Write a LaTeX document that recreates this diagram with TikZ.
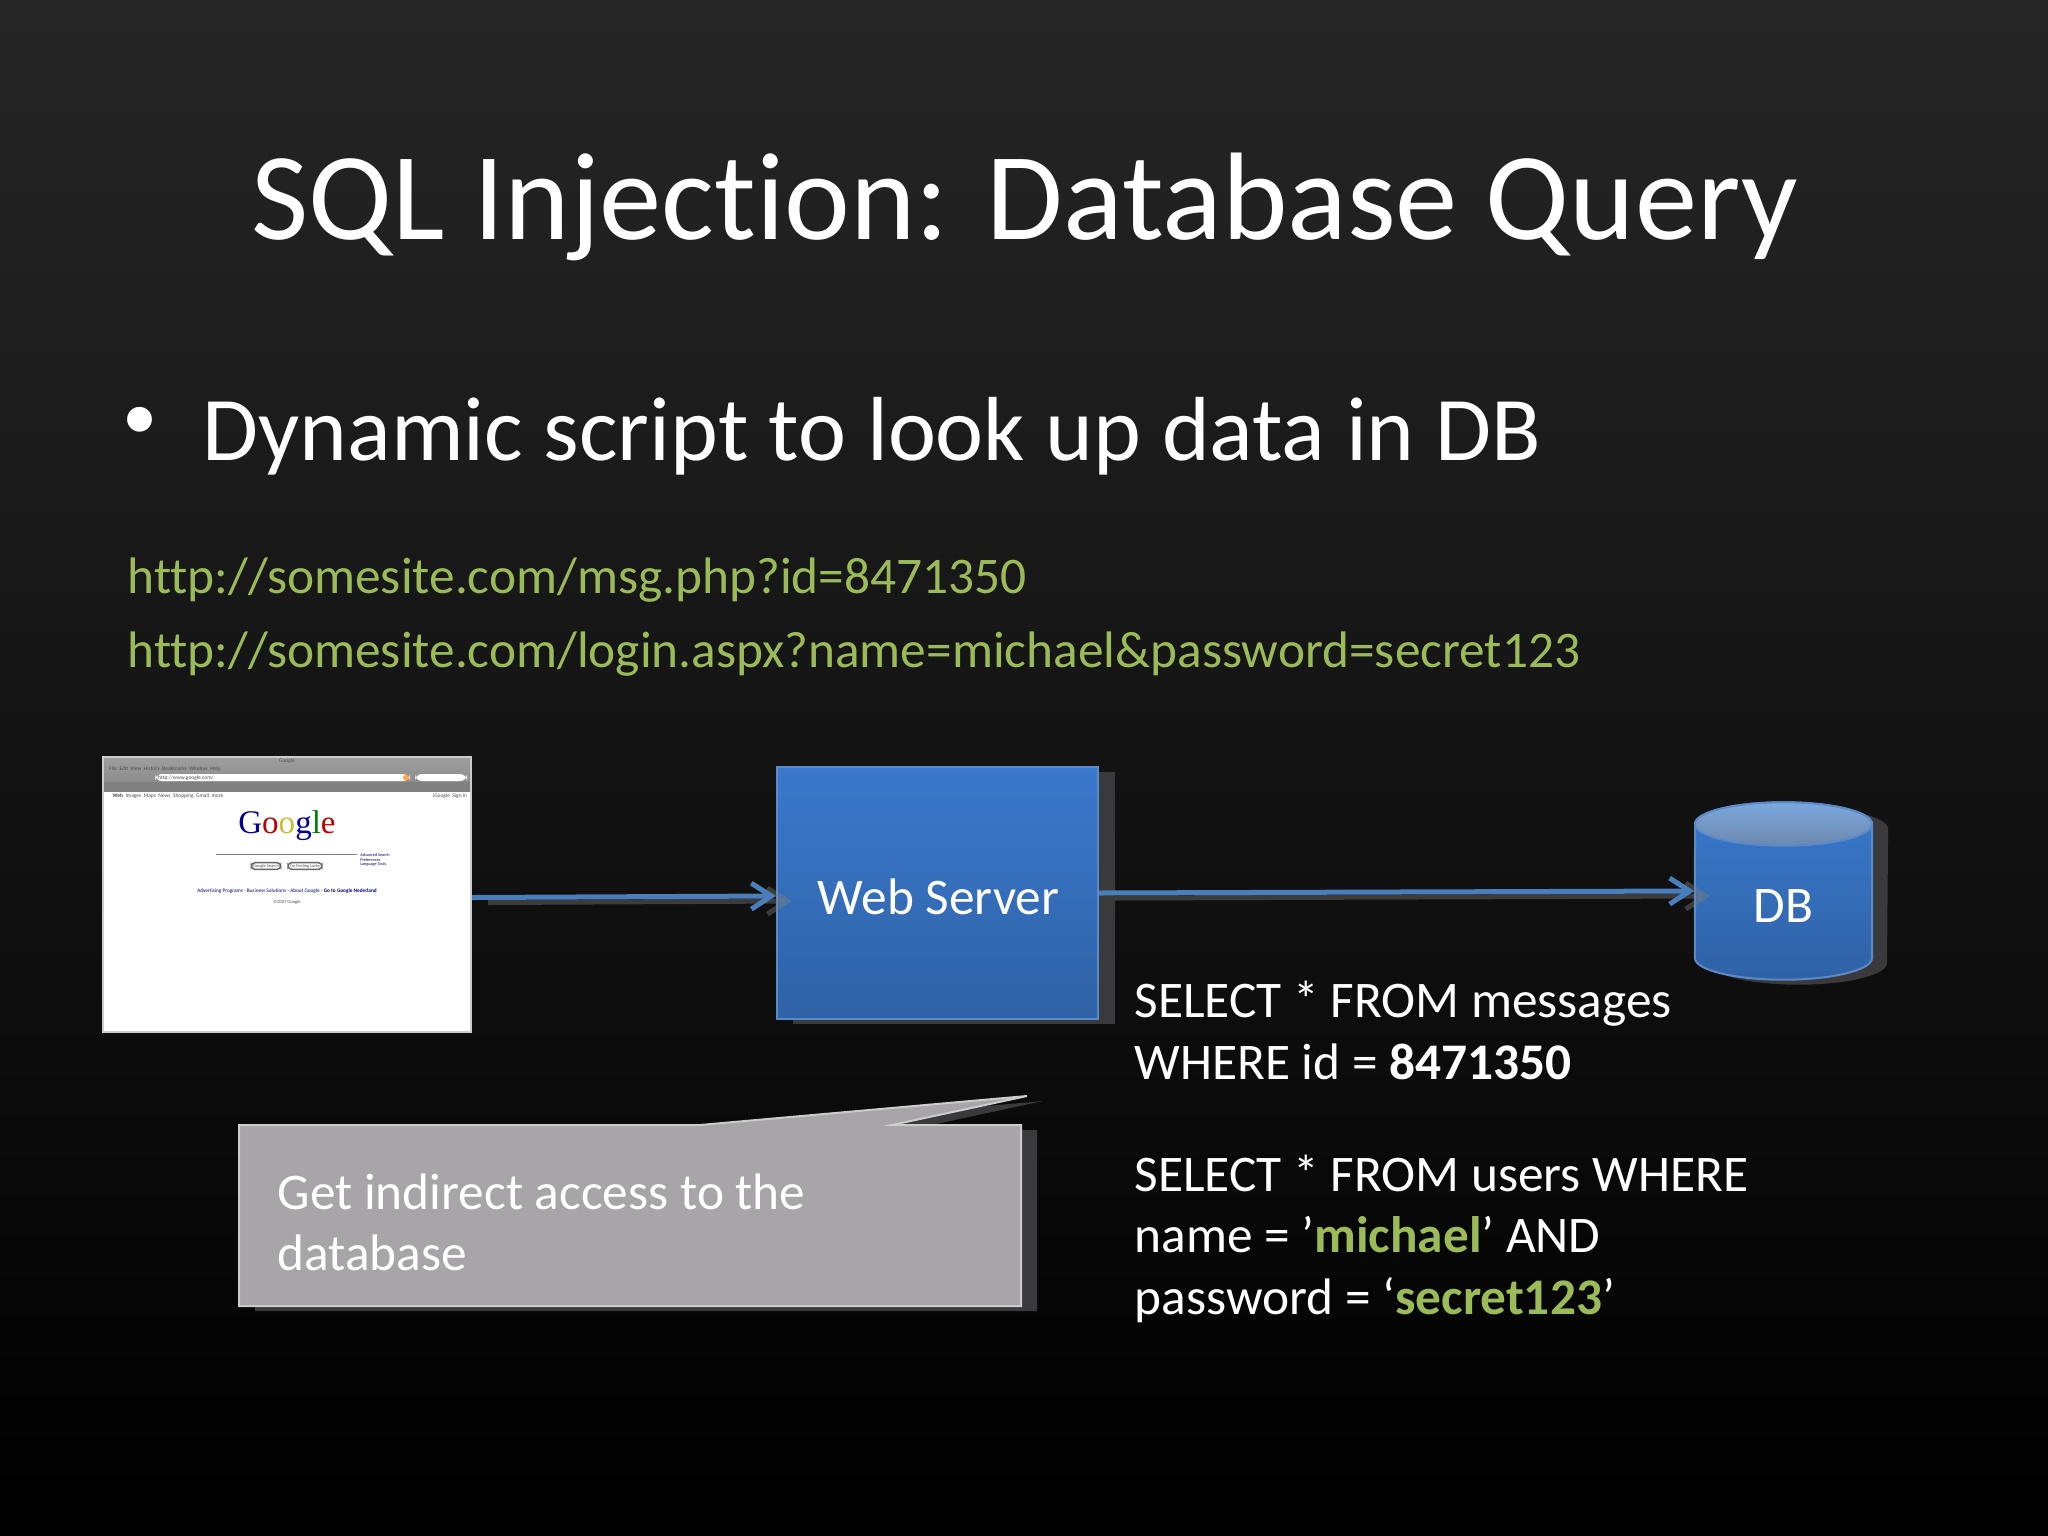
\documentclass[tikz,border=0pt]{standalone}
\usepackage{fontspec}
\setmainfont[Ligatures=NoCommon]{Carlito}
\newfontfamily\logofont{Liberation Serif}
\usetikzlibrary{arrows.meta}
\usetikzlibrary{positioning}
\definecolor{slidegreen}{HTML}{9BBB59}
\definecolor{slideblue}{HTML}{4A7EBB}
\definecolor{boxedge}{HTML}{5A8AC8}
\definecolor{boxtop}{HTML}{3A78CC}
\definecolor{boxbottom}{HTML}{2F62A6}
\definecolor{captop}{HTML}{7BA8DE}
\definecolor{capbottom}{HTML}{6C89AE}
\definecolor{calloutgray}{HTML}{A7A5A8}
\definecolor{shadowgray}{HTML}{3A3A3C}
\tikzset{
    slidetext/.style={
        anchor=base west,
        inner sep=0pt,
        text=white,
        font=\fontsize{14.6}{18}\selectfont
    },
    urltext/.style={
        slidetext,
        text=slidegreen
    },
    conn/.style={
        draw=slideblue,
        line width=0.5mm,
        -{Straight Barb[length=2mm, width=2.6mm, line width=0.5mm]}
    },
    connshadow/.style={
        conn,
        draw=gray,
        opacity=0.4,
        transform canvas={xshift=0.16cm, yshift=-0.05cm}
    },
    tinytext/.style={
        inner sep=0pt,
        text=black!70,
        font=\fontsize{1.55}{2}\selectfont
    },
    bluebox/.style={
        draw=boxedge,
        line width=0.2mm,
        top color=boxtop,
        bottom color=boxbottom
    }
}

\begin{document}
\begin{tikzpicture}[x=0.01cm, y=-0.01cm]

    % Slide background
    \path[use as bounding box, top color=black!85, bottom color=black] (0,0) rectangle (2048,1536);

    % Heading and bullet
    \node[slidetext, font=\fontsize{35.43}{42}\selectfont] (title) at (251,239) {SQL Injection: Database Query};
    \node[slidetext, font=\fontsize{20}{24}\selectfont] (bulletmark) at (122,439) {•};
    \node[slidetext, font=\fontsize{25.88}{31}\selectfont] (bullettext) at (202,460) {Dynamic script to look up data in DB};

    % Urls
    \node[urltext] (urlone) at (127,593) {http://somesite.com/msg.php?id=8471350};
    \node[urltext] (urltwo) at (127,667) {http://somesite.com/login.aspx?name=michael\&password=secret123};

    % Browser window
    \node[draw=black!20, fill=white, line width=0.2mm, minimum width=3.68cm, minimum height=2.75cm, inner sep=0pt] (browser) at (287,894.5) {};
    \fill[top color=black!38, bottom color=black!45] (104,758) rectangle (470,782);
    \fill[black!50] (104,782) rectangle (470,792);
    \fill[white, rounded corners=2pt] (155,774) rectangle (410,781);
    \fill[white, rounded corners=2pt] (415,774) rectangle (467,781);
    \fill[orange!70] (406,777.5) circle (3);
    \node[tinytext] (tabtitle) at (287,761) {Google};
    \node[tinytext] (menubar) at (165,769) {File\ \ Edit\ \ View\ \ History\ \ Bookmarks\ \ Window\ \ Help};
    \node[tinytext] (addressbar) at (186,778) {http://www.google.com/};
    \node[tinytext] (navlinks) at (168,796) {\textbf{Web}\ \ Images\ \ Maps\ \ News\ \ Shopping\ \ Gmail\ \ more};
    \node[tinytext] (signin) at (450,796) {iGoogle\ \ Sign in};
    \node[inner sep=0pt, font=\logofont\fontsize{9.4}{12}\selectfont] (logo) at (287,826) {\textcolor{blue!60!black}{G}\textcolor{red!75!black}{o}\textcolor{yellow!75!black}{o}\textcolor{blue!60!black}{g}\textcolor{green!50!black}{l}\textcolor{red!75!black}{e}};
    \draw[black!50, line width=0.1mm] (216,854) -- (357,854);
    \node[tinytext, draw=black!60, rounded corners=1pt, inner xsep=0.5pt, inner ysep=0.4pt, font=\fontsize{1.25}{1.6}\selectfont] (searchbtn) at (266,866) {Google Search};
    \node[tinytext, draw=black!60, rounded corners=1pt, inner xsep=0.5pt, inner ysep=0.4pt, font=\fontsize{1.25}{1.6}\selectfont] (luckybtn) at (305,866) {I'm Feeling Lucky};
    \node[tinytext, text=blue!50!black, align=left, font=\fontsize{1.2}{1.3}\selectfont] (advlinks) at (375,860) {Advanced Search\\Preferences\\Language Tools};
    \node[tinytext, text=blue!50!black, font=\fontsize{1.5}{2}\selectfont] (footlinks) at (287,891) {Advertising Programs - Business Solutions - About Google - \textbf{Go to Google Nederland}};
    \node[tinytext, font=\fontsize{1.3}{2}\selectfont] (copyright) at (287,902) {©2007 Google};

    % Web server box
    \fill[shadowgray] (793,772) rectangle (1115,1024);
    \node[bluebox, minimum width=3.21cm, minimum height=2.52cm, inner sep=0pt] (server) at (937.5,893) {};
    \node[slidetext, anchor=center] (servertext) at (938.5,897) {Web Server};

    % Database cylinder
    \fill[shadowgray] (1711,829) arc[start angle=180, end angle=0, x radius=0.885cm, y radius=0.217cm] -- (1887,963) arc[start angle=0, end angle=-180, x radius=0.885cm, y radius=0.217cm] -- cycle;
    \path[bluebox] (1695,824) arc[start angle=180, end angle=0, x radius=0.885cm, y radius=0.217cm] -- (1872,958) arc[start angle=0, end angle=-180, x radius=0.885cm, y radius=0.217cm] -- cycle;
    \path[draw=boxedge, line width=0.2mm, top color=captop, bottom color=capbottom] (1783.5,824) ellipse[x radius=0.885cm, y radius=0.217cm];
    \node[inner sep=0pt, minimum width=1.77cm, minimum height=1.78cm] (db) at (1783.5,891) {};
    \node[slidetext, anchor=center] (dbtext) at (1783.5,906) {DB};

    % Connectors
    \draw[connshadow] ([yshift=-0.03cm]browser.east) -- ([yshift=-0.03cm]server.west);
    \draw[connshadow] (server.east) -- (db.west);
    \draw[conn] ([yshift=-0.03cm]browser.east) -- ([yshift=-0.03cm]server.west);
    \draw[conn] (server.east) -- (db.west);

    % Callout
    \fill[shadowgray] (255,1130) -- (716,1130) -- (1043,1101) -- (908,1130) -- (1037,1130) -- (1037,1311) -- (255,1311) -- cycle;
    \draw[draw=black!20, fill=calloutgray, line width=0.2mm] (239,1125) -- (700,1125) -- (1027,1096) -- (892,1125) -- (1021,1125) -- (1021,1306) -- (239,1306) -- cycle;
    \node[slidetext] (calloutone) at (277,1209) {Get indirect access to the};
    \node[slidetext] (callouttwo) at (277,1270) {database};

    % Queries
    \node[slidetext] (queryone) at (1134,1017) {SELECT * FROM messages};
    \node[slidetext] (querytwo) at (1134,1079) {WHERE id = \textbf{8471350}};
    \node[slidetext] (querythree) at (1134,1191) {SELECT * FROM users WHERE};
    \node[slidetext] (queryfour) at (1134,1252) {name = ’\textbf{\textcolor{slidegreen}{michael}}’ AND};
    \node[slidetext] (queryfive) at (1134,1314) {password = ‘\textbf{\textcolor{slidegreen}{secret123}}’};

\end{tikzpicture}
\end{document}
